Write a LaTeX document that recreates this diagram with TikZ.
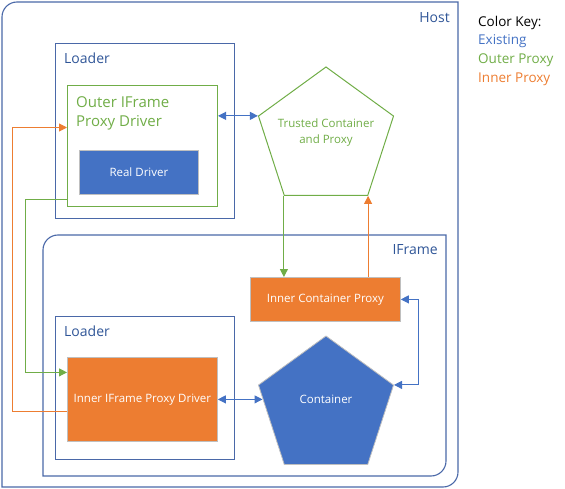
\documentclass[tikz,border=0pt]{standalone}
\usepackage{fontspec}
\setmainfont{Open Sans}
\usetikzlibrary{shapes.geometric,arrows.meta}
\definecolor{cblue}{HTML}{4472C4}
\definecolor{cgreen}{HTML}{70AD47}
\definecolor{corange}{HTML}{ED7D31}
\definecolor{cnavy}{HTML}{2F5597}
\definecolor{cframe}{HTML}{4A68A8}
\definecolor{cedge}{HTML}{BFBFBF}
\begin{document}
\begin{tikzpicture}[x=1pt,y=-1pt,
  tip/.style={-{Triangle[length=8pt,width=8pt]}},
  bitip/.style={{Triangle[length=8pt,width=8pt]}-{Triangle[length=8pt,width=8pt]}},
  frame/.style={draw=cframe,line width=1.1pt},
  loaderbox/.style={draw=cframe,line width=1.1pt,anchor=north west,inner sep=0pt},
  fillbox/.style={draw=cedge,line width=0.8pt,anchor=north west,inner sep=0pt,text=white,font=\fontsize{11.5}{15}\selectfont},
  lbl/.style={text=cnavy,font=\fontsize{14}{17}\selectfont,inner sep=0pt},
  conn/.style={line width=1pt},
  keytxt/.style={anchor=west,inner sep=0pt,font=\fontsize{13.5}{16}\selectfont}]
\useasboundingbox (0,0) rectangle (565,489);
% Host
\draw[frame] (2,487) -- (2,17) .. controls (2,8.7) and (8.7,2) .. (17,2) -- (458,2) -- (458,472) .. controls (458,480.3) and (451.3,487) .. (443,487) -- cycle;
\node[lbl,anchor=east] (hostlbl) at (450,18) {Host};
% IFrame
\draw[frame] (43,476) -- (43,250) .. controls (43,241.7) and (49.7,235) .. (58,235) -- (446,235) -- (446,461) .. controls (446,469.3) and (439.3,476) .. (431,476) -- cycle;
\node[lbl,anchor=east] (iframelbl) at (438,250) {IFrame};
% Loader 1
\node[loaderbox,minimum width=179pt,minimum height=175pt] (loader1) at (55,43) {};
\node[lbl,anchor=west] (loader1lbl) at (64,58) {Loader};
\node[draw=cgreen,line width=1pt,anchor=north west,inner sep=0pt,minimum width=150pt,minimum height=121pt] (outerdrv) at (67,85) {};
\node[anchor=north west,align=left,text=cgreen,inner sep=0pt,font=\fontsize{15}{19}\selectfont] (outertxt) at (76,96) {Outer IFrame\\Proxy Driver};
\node[fillbox,fill=cblue,minimum width=119pt,minimum height=44pt] (realdrv) at (79,150) {Real Driver};
% Trusted container
\node[regular polygon,regular polygon sides=5,minimum size=142pt,inner sep=0pt,draw=cgreen,line width=1pt] (trusted) at (326,138) {};
\node[text=cgreen,align=center,font=\fontsize{11.5}{16}\selectfont,inner sep=0pt] (trustedtxt) at (326,133) {Trusted Container\\and Proxy};
% Inner container proxy
\node[fillbox,fill=corange,minimum width=150pt,minimum height=44pt] (icp) at (250,277) {Inner Container Proxy};
% Container
\node[regular polygon,regular polygon sides=5,minimum size=142pt,inner sep=0pt,fill=cblue,draw=cedge,line width=0.8pt] (container) at (326,407) {};
\node[text=white,font=\fontsize{11.5}{15}\selectfont,inner sep=0pt] (containertxt) at (326,399) {Container};
% Loader 2
\node[loaderbox,minimum width=179pt,minimum height=143pt] (loader2) at (55,316) {};
\node[lbl,anchor=west] (loader2lbl) at (64,331) {Loader};
\node[fillbox,fill=corange,minimum width=150pt,minimum height=84pt] (innerdrv) at (67,357) {Inner IFrame Proxy Driver};
% Connectors
\draw[conn,cblue,bitip] (outerdrv.east |- trusted.corner 2) -- (trusted.corner 2);
\draw[conn,cgreen,tip] (trusted.corner 3) -- (trusted.corner 3 |- icp.north);
\draw[conn,corange,tip] (trusted.corner 4 |- icp.north) -- (trusted.corner 4);
\draw[conn,cblue,bitip] (icp.east) -- ++(18,0) |- (container.corner 5);
\draw[conn,cblue,bitip] (innerdrv.east) -- ([xshift=4.5pt]innerdrv.east -| container.corner 2);
\draw[conn,corange,tip] ([yshift=-12pt]innerdrv.west) -- ++(-55,0) |- ([yshift=18.5pt]outerdrv.west);
\draw[conn,cgreen,tip] ([yshift=-53.5pt]outerdrv.west) -- ++(-42,0) |- ([yshift=27pt]innerdrv.west);
% Color key
\node[keytxt,text=black] (key0) at (478,23) {Color Key:};
\node[keytxt,text=cblue] (key1) at (478,41) {Existing};
\node[keytxt,text=cgreen] (key2) at (478,60) {Outer Proxy};
\node[keytxt,text=corange] (key3) at (478,79) {Inner Proxy};
\end{tikzpicture}
\end{document}
